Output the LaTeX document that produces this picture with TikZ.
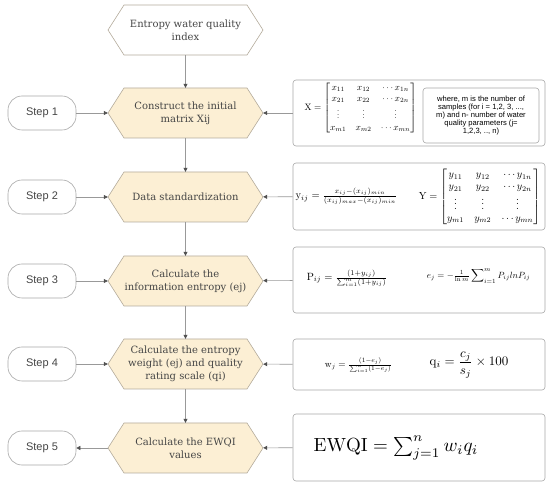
\documentclass[tikz,border=0pt]{standalone}
\usepackage{amsmath}
\usepackage{fontspec}
\newfontfamily\hexfont{DejaVu Serif}
\newfontfamily\sansf{Liberation Sans}
\usetikzlibrary{arrows.meta}
\definecolor{cream}{HTML}{FCEFD4}
\definecolor{hexborder}{HTML}{B5AC9C}
\definecolor{lineg}{HTML}{999999}
\definecolor{boxg}{HTML}{A8A8A8}
\definecolor{tipg}{HTML}{505050}
\definecolor{txt}{HTML}{454545}
\tikzset{
  hexline/.style={draw=hexborder, line width=0.6pt},
  hextext/.style={minimum width=155pt, minimum height=50pt, inner sep=0pt, align=center,
    font=\hexfont\fontsize{10}{13}\selectfont, text=txt},
  stepbox/.style={draw=boxg, line width=0.6pt, rounded corners=14pt, minimum width=68pt,
    minimum height=34pt, inner sep=0pt, font=\sansf\fontsize{11}{13}\selectfont, text=txt, fill=white},
  rbox/.style={draw=boxg, line width=0.6pt, rounded corners=3pt, minimum width=252pt, inner sep=0pt, fill=white},
  innerbox/.style={draw=boxg, line width=0.6pt, rounded corners=3pt, minimum width=116pt, minimum height=55pt,
    inner sep=0pt, align=center, font=\sansf\fontsize{7.6}{8}\selectfont, text=black},
  mathnode/.style={inner sep=0pt, text=black, transform shape},
  conn/.style={draw=lineg, line width=0.6pt, -{Triangle[length=4pt,width=4pt,color=tipg]}},
}
\newcommand\hexshape[5]{%
  \filldraw[hexline, fill=#4] ({#2-77.5},#3) -- ({#2-61.5},{#3-25}) -- ({#2+61.5},{#3-25})
    -- ({#2+77.5},#3) -- ({#2+61.5},{#3+25}) -- ({#2-61.5},{#3+25}) -- cycle;
  \node[hextext] (#1) at (#2,#3) {#5};}
\begin{document}
\begin{tikzpicture}[x=1pt, y=-1pt]
\useasboundingbox[fill=white] (0,0) rectangle (550,489);
% hexagons
\hexshape{h0}{185.5}{30}{white}{Entropy water quality\\index}
\hexshape{h1}{185.5}{113}{cream}{Construct the initial\\matrix Xij}
\hexshape{h2}{185.5}{197}{cream}{Data standardization}
\hexshape{h3}{185.5}{281}{cream}{Calculate the\\information entropy (ej)}
\hexshape{h4}{185.5}{364}{cream}{Calculate the entropy\\weight (ej) and quality\\rating scale (qi)}
\hexshape{h5}{185.5}{448}{cream}{Calculate the EWQI\\values}
% steps
\node[stepbox] (s1) at (42,113) {Step 1};
\node[stepbox] (s2) at (42,197) {Step 2};
\node[stepbox] (s3) at (42,281) {Step 3};
\node[stepbox] (s4) at (42,364) {Step 4};
\node[stepbox] (s5) at (42,448) {Step 5};
% right boxes
\node[rbox, minimum height=66pt] (b1) at (419,113) {};
\node[rbox, minimum height=67pt] (b2) at (419,196.5) {};
\node[rbox, minimum height=66pt] (b3) at (419,280) {};
\node[rbox, minimum height=51pt] (b4) at (419,364.5) {};
\node[rbox, minimum height=67pt] (b5) at (419,447.5) {};
% box contents
\node[mathnode, scale=0.93] (m1) at (360.5,108) {$\mathrm{X}=\begin{bmatrix} x_{11} & x_{12} & \cdots x_{1n}\\ x_{21} & x_{22} & \cdots x_{2n}\\ \vdots & \vdots & \vdots\\ x_{m1} & x_{m2} & \cdots x_{mn}\end{bmatrix}$};
\node[innerbox] (n1) at (481,115.5) {where, m is the number of\\samples (for i = 1,2, 3, ...,\\m) and n- number of water\\quality parameters (j=\\1,2,3, .., n)};
\node[mathnode, scale=1.05] (m2a) at (346.5,196) {$\mathrm{y}_{ij}=\frac{x_{ij}-(x_{ij})_{min}}{(x_{ij})_{max}-(x_{ij})_{min}}$};
\node[mathnode, scale=1.03] (m2b) at (479.5,197) {$\mathrm{Y}=\begin{bmatrix} y_{11} & y_{12} & \cdots y_{1n}\\ y_{21} & y_{22} & \cdots y_{2n}\\ \vdots & \vdots & \vdots\\ y_{m1} & y_{m2} & \cdots y_{mn}\end{bmatrix}$};
\node[mathnode, scale=1.05] (m3a) at (347,278) {$\mathrm{P}_{ij}=\frac{(1+y_{ij})}{\sum_{i=1}^{m}(1+y_{ij})}$};
\node[mathnode, scale=0.9] (m3b) at (478.5,276) {$e_j=-\tfrac{1}{\ln m}\displaystyle\sum\nolimits_{i=1}^{m} P_{ij}lnP_{ij}$};
\node[mathnode, scale=0.94] (m4a) at (358.5,365) {$\mathrm{w}_j=\frac{(1-e_j)}{\sum_{i=1}^{n}(1-e_j)}$};
\node[mathnode, scale=1.3] (m4b) at (469,365) {$\mathrm{q}_i=\dfrac{c_j}{s_j}\times 100$};
\node[mathnode, scale=1.9] (m5) at (396,448) {$\mathrm{EWQI}=\sum\nolimits_{j=1}^{n} w_i q_i$};
% connectors
\draw[conn] (h0) -- (h1);
\draw[conn] (h1) -- (h2);
\draw[conn] (h2) -- (h3);
\draw[conn] (h3) -- (h4);
\draw[conn] (h4) -- (h5);
\draw[conn] (s1) -- (h1);
\draw[conn] (s2) -- (h2);
\draw[conn] (s3) -- (h3);
\draw[conn] (s4) -- (h4);
\draw[conn] (h5) -- (s5);
\draw[conn] (b1) -- (h1);
\draw[conn] (b2) -- (h2);
\draw[conn] (b3) -- (h3);
\draw[conn] (b4) -- (h4);
\draw[conn] (b5) -- (h5);
\end{tikzpicture}
\end{document}
